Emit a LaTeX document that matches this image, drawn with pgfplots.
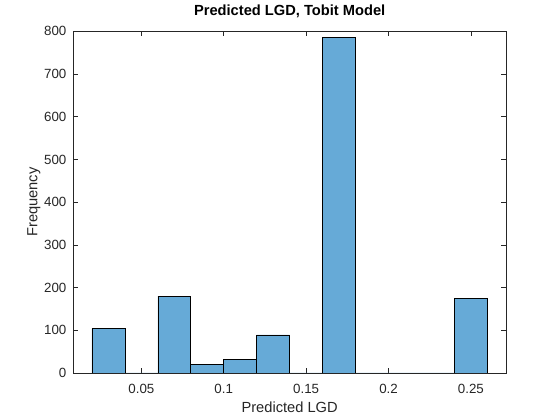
\documentclass[border=0pt]{standalone}
\usepackage{pgfplots}
\pgfplotsset{compat=1.18}
\usepackage{fontspec}
\setmainfont{Liberation Sans}
\definecolor{barfill}{RGB}{102,170,215}
\definecolor{axgray}{RGB}{38,38,38}
\begin{document}
\begin{tikzpicture}
\begin{axis}[
  at={(0,0)}, anchor=south west,
  scale only axis,
  width=324.5pt, height=256.3pt,
  xmin=0.0087, xmax=0.2713,
  ymin=0, ymax=800,
  xtick={0.05,0.1,0.15,0.2,0.25},
  xticklabels={0.05,0.1,0.15,0.2,0.25},
  scaled x ticks=false,
  ytick={0,100,...,800},
  tick align=inside,
  major tick length=3.5pt,
  axis line style={axgray, line width=0.5pt},
  every tick/.style={axgray, line width=0.5pt},
  ticklabel style={font=\fontsize{10}{12}\selectfont, text=axgray},
  /pgf/number format/assume math mode=true,
  xticklabel style={yshift=-5.2pt},
  yticklabel style={xshift=-1.7pt},
  title={\textbf{Predicted LGD, Tobit Model}},
  title style={at={(0.5,1)}, anchor=base, yshift=5.5pt, font=\fontsize{11}{13}\selectfont},
  xlabel={Predicted LGD},
  xlabel style={at={(0.5,0)}, anchor=base, yshift=-30pt, font=\fontsize{11}{13}\selectfont, text=axgray},
  ylabel={Frequency},
  ylabel style={at={(0,0.5)}, anchor=base, yshift=27pt, font=\fontsize{11}{13}\selectfont, text=axgray},
]
\addplot[ybar interval, fill=barfill, draw=black, line width=0.5pt] coordinates {
  (0.02,104) (0.04,0) (0.06,180) (0.08,20) (0.10,32) (0.12,89) (0.14,0)
  (0.16,786) (0.18,0) (0.20,0) (0.22,0) (0.24,175) (0.26,175)
};
\end{axis}
\path (-55pt,-35.25pt) rectangle (365pt,279.75pt);
\end{tikzpicture}
\end{document}
